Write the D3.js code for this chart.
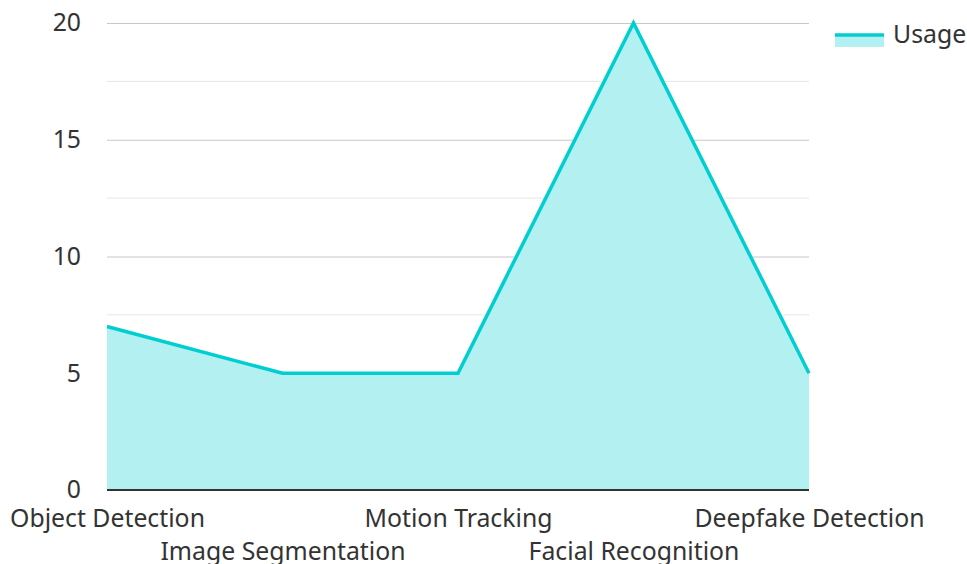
<!DOCTYPE html>
<html>
<head>
<meta charset="utf-8">
<script src="https://cdn.jsdelivr.net/npm/d3@7"></script>
<style>
  html, body { margin: 0; padding: 0; background: #fff; }
  svg { display: block; font-family: "Noto Sans", sans-serif; }
</style>
</head>
<body>
<svg id="chart" width="967" height="564"></svg>
<script>
// Usage counts per computer-vision technique
const categories = ["Object Detection", "Image Segmentation", "Motion Tracking", "Facial Recognition", "Deepfake Detection"];
const usage = [7, 5, 5, 20, 5];
const yTicks = [0, 5, 10, 15, 20];
const yMinorTicks = [2.5, 7.5, 12.5, 17.5];
const seriesName = "Usage";

const color = "#00ced1";
const fillColor = "#b2f0f1";
const fontSize = 24.8;

const svg = d3.select("#chart");
const margin = { left: 107, right: 158, top: 23, bottom: 74 };
const width = 967, height = 564;

const x = d3.scalePoint()
  .domain(categories)
  .range([margin.left, width - margin.right]);

const y = d3.scaleLinear()
  .domain([0, 20])
  .range([height - margin.bottom, margin.top]);

// Minor gridlines
svg.append("g")
  .selectAll("line")
  .data(yMinorTicks)
  .join("line")
  .attr("x1", margin.left).attr("x2", width - margin.right)
  .attr("y1", d => y(d)).attr("y2", d => y(d))
  .attr("stroke", "#e6e6e6").attr("stroke-width", 1);

// Major gridlines and labels
const yAxis = svg.append("g")
  .attr("transform", `translate(${margin.left},0)`)
  .call(d3.axisLeft(y).tickValues(yTicks).tickSize(-(width - margin.left - margin.right)).tickPadding(26).tickFormat(d3.format("d")));
yAxis.select(".domain").remove();
yAxis.selectAll(".tick line").attr("stroke", "#c8c8c8").attr("stroke-width", 1.2);
yAxis.selectAll(".tick text")
  .attr("font-size", fontSize).attr("fill", "#333").attr("font-family", "Noto Sans, sans-serif");

// Area and line
const area = d3.area()
  .x((d, i) => x(categories[i]))
  .y0(y(0))
  .y1(d => y(d));
const line = d3.line()
  .x((d, i) => x(categories[i]))
  .y(d => y(d));

svg.append("path")
  .datum(usage)
  .attr("d", area)
  .attr("fill", fillColor);

svg.append("path")
  .datum(usage)
  .attr("d", line)
  .attr("fill", "none")
  .attr("stroke", color)
  .attr("stroke-width", 3.5)
  .attr("stroke-linejoin", "miter");

// X axis
const xAxis = svg.append("g")
  .attr("transform", `translate(0,${y(0)})`)
  .call(d3.axisBottom(x).tickSize(0).tickPadding(0));
xAxis.select(".domain").attr("stroke", "#333").attr("stroke-width", 2)
  .attr("d", `M${margin.left},0H${width - margin.right}`);
xAxis.selectAll(".tick text")
  .attr("font-size", fontSize).attr("fill", "#333").attr("font-family", "Noto Sans, sans-serif")
  .attr("dy", null)
  .attr("y", (d, i) => i % 2 === 0 ? 37 : 70);

// Legend
const legend = svg.append("g").attr("transform", "translate(835,35)");
legend.append("rect").attr("x", 0).attr("y", 0).attr("width", 49).attr("height", 12).attr("fill", fillColor);
legend.append("line").attr("x1", 0).attr("x2", 49).attr("y1", 0).attr("y2", 0)
  .attr("stroke", color).attr("stroke-width", 3.5);
legend.append("text").attr("x", 58).attr("y", 8)
  .attr("font-size", fontSize).attr("fill", "#333").text(seriesName);
</script>
</body>
</html>
